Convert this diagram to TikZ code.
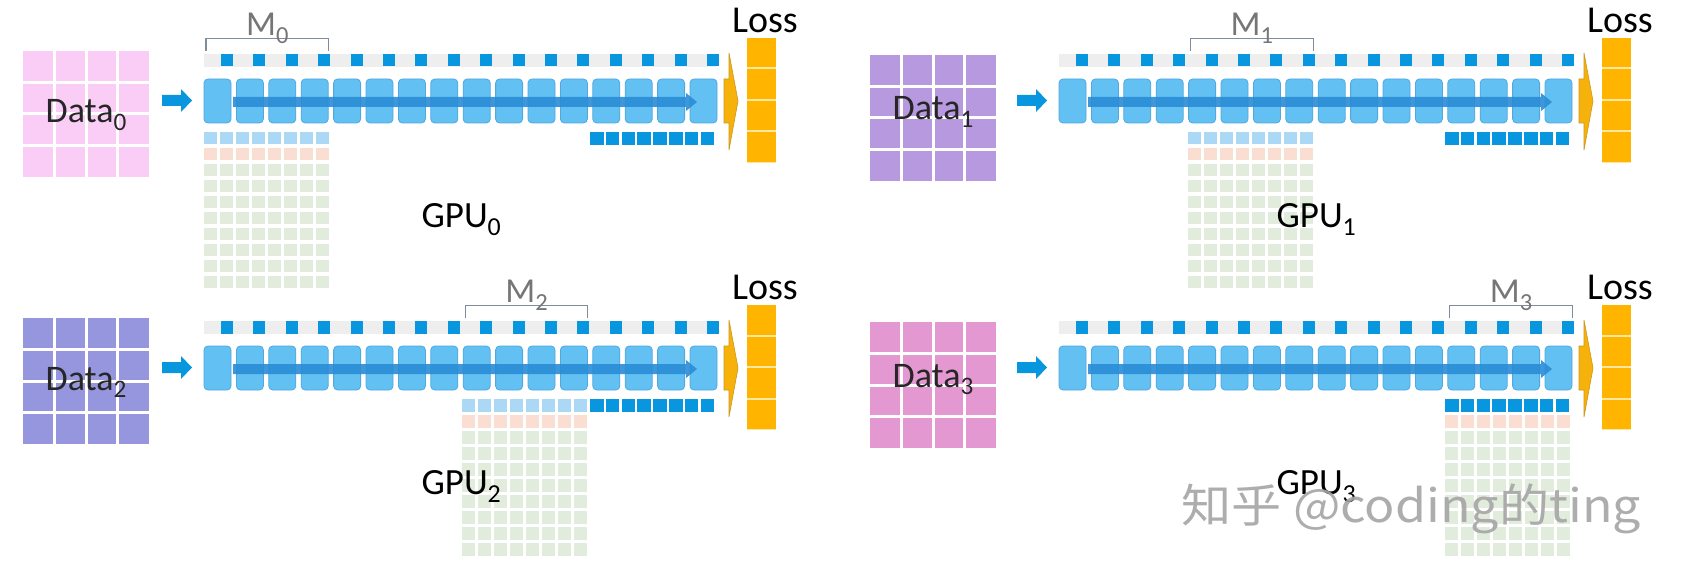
\documentclass[tikz,border=0pt]{standalone}
\usepackage{fontspec}
\setmainfont{Carlito}
\newfontfamily\cjkfont{Noto Sans CJK SC}
\usepackage{graphicx}
\newcommand\lsub[1]{\raisebox{-0.22em}{\scalebox{0.7}{#1}}}
\definecolor{dataA}{RGB}{250,205,246}
\definecolor{dataB}{RGB}{183,153,223}
\definecolor{dataC}{RGB}{150,150,222}
\definecolor{dataD}{RGB}{228,152,210}
\definecolor{blkfill}{RGB}{98,192,242}
\definecolor{blkdraw}{RGB}{80,168,222}
\definecolor{band}{RGB}{42,140,214}
\definecolor{sqblue}{RGB}{8,150,222}
\definecolor{stripgray}{RGB}{238,238,238}
\definecolor{gridblue}{RGB}{170,216,245}
\definecolor{gridorange}{RGB}{250,222,210}
\definecolor{gridgreen}{RGB}{226,236,220}
\definecolor{lossfill}{RGB}{255,180,0}
\definecolor{losssep}{RGB}{255,232,160}
\definecolor{chev}{RGB}{246,178,10}
\definecolor{chevdraw}{RGB}{205,150,30}
\definecolor{brk}{RGB}{128,140,155}
\definecolor{mtext}{RGB}{118,118,118}
\definecolor{wm}{RGB}{165,165,165}
\tikzset{
  blk/.style={rounded corners=4pt, fill=blkfill, draw=blkdraw, line width=0.8pt},
  sq/.style={fill=sqblue},
  bracketline/.style={draw=brk, line width=1.3pt},
  datatext/.style={anchor=base, font=\fontsize{36}{38}\selectfont, text=black!85},
  gputext/.style={anchor=base west, font=\fontsize{37}{39}\selectfont, text=black},
  losstext/.style={anchor=base, font=\fontsize{38}{40}\selectfont, text=black},
  mlabel/.style={anchor=base, font=\fontsize{35}{37}\selectfont, text=mtext},
  chevron/.style={fill=chev, draw=chevdraw, line width=0.6pt},
  wmtext/.style={anchor=base west, font=\cjkfont\fontsize{44}{46}\selectfont, text=wm, text opacity=0.9}
}
\begin{document}
\begin{tikzpicture}[x=1pt,y=-1pt]
\useasboundingbox (0,0) rectangle (1686,585);
\fill[white] (0,0) rectangle (1686,585);
\foreach \k/\dx/\dy/\ddx/\ddy/\tb/\col in {0/0/0/23/51/72/dataA, 1/855/0/15/55/65/dataB, 2/0/267/23/51/72/dataC, 3/855/267/15/55/65/dataD}{
\begin{scope}[shift={(\dx,\dy)}]
  % data box
  \fill[\col] (\ddx,\ddy) rectangle ++(126,126);
  \foreach \i in {1,2,3}{
    \draw[white, line width=3pt] (\ddx+31.5*\i,\ddy) -- ++(0,126);
    \draw[white, line width=3pt] (\ddx,\ddy+31.5*\i) -- ++(126,0);
  }
  \node[datatext] (data\k) at (\ddx+63,\ddy+\tb) {Data\lsub{\k}};
  % input arrow
  \fill[sqblue] (162,95) -- (181,95) -- (181,89) -- (192,100.5) -- (181,112) -- (181,106) -- (162,106) -- cycle;
  % top strip
  \fill[stripgray] (204,54) rectangle (716,67);
  \foreach \j in {0,...,15}{
    \draw[blk] (204+32.4*\j,79) rectangle ++(27,44);
    \fill[sq] (221+32.4*\j,54) rectangle ++(12,12.5);
  }
  % dark band arrow
  \fill[band, opacity=0.9] (233,97) -- (686,97) -- (686,93) -- (697,102) -- (686,111) -- (686,107) -- (233,107) -- cycle;
  % bottom dark squares
  \foreach \j in {0,...,7}
    \fill[sq] (590+15.8*\j,132) rectangle ++(13.6,13);
  % grid
  \pgfmathsetmacro\gx{204+128.8*\k}
  \foreach \c in {0,...,7}{
    \ifnum\k<3 \fill[gridblue] (\gx+16*\c,132) rectangle ++(13,12.5); \fi
    \fill[gridorange] (\gx+16*\c,148) rectangle ++(13,12.5);
    \foreach \r in {2,...,9}
      \fill[gridgreen] (\gx+16*\c,132+16*\r) rectangle ++(13,12.5);
  }
  % bracket
  \pgfmathsetmacro\xa{204+129.6*\k+2}
  \pgfmathsetmacro\xb{204+129.6*\k+124.6}
  \draw[bracketline] (\xa,51) -- (\xa,38.5) -- (\xb,38.5) -- (\xb,51);
  \node[mlabel] (m\k) at ({(\xa+\xb)/2},35.5) {M\lsub{\k}};
  % chevron
  \filldraw[chevron] (729,53) -- (738,101) -- (729,150) -- (729,123) -- (724,123) -- (724,79) -- (729,79) -- cycle;
  % loss
  \fill[losssep] (747,38) rectangle (776,163);
  \foreach \i in {0,...,3}
    \fill[lossfill] (747,38+31.5*\i) rectangle ++(29,29.5);
  \node[losstext] (loss\k) at (765,33) {Loss};
  % gpu label
  \node[gputext] (gpu\k) at (418,227.5) {GPU\lsub{\k}};
\end{scope}
}
\node[wmtext] (wmark) at (1178,522) {\scalebox{1.14}[1.04]{知乎 @coding的ting}};
\end{tikzpicture}
\end{document}
